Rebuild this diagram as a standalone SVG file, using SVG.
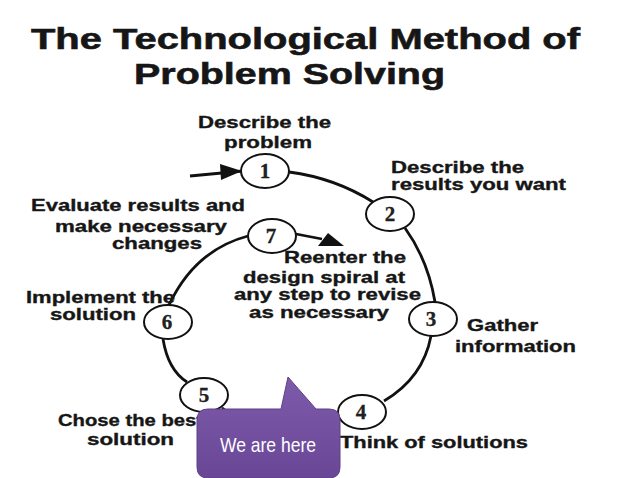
<svg xmlns="http://www.w3.org/2000/svg" width="638" height="478" viewBox="0 0 638 478">
<style>
text{font-family:"Liberation Sans",Arial,sans-serif;font-weight:bold;fill:#161616;stroke:#161616}
.t{font-size:30px;stroke-width:.6}
.l{font-size:16.5px;stroke-width:.35}
.n{font-family:"Liberation Serif","Times New Roman",serif;font-size:21px;text-anchor:middle;fill:#222;stroke-width:.3}
ellipse{fill:#fff;stroke:#111;stroke-width:2}
.c{fill:none;stroke:#111;stroke-width:2.8}
</style>
<defs>
<linearGradient id="p" x1="0" y1="0" x2="0" y2="1"><stop offset="0" stop-color="#7d5bab"/><stop offset="1" stop-color="#6a4796"/></linearGradient>
</defs>
<rect width="638" height="478" fill="#fff"/>
<g id="title">
<text class="t" x="31" y="49" textLength="549" lengthAdjust="spacingAndGlyphs">The Technological Method of</text>
<text class="t" x="134" y="84" textLength="311" lengthAdjust="spacingAndGlyphs">Problem Solving</text>
</g>
<g id="connectors">
<path class="c" d="M190 176L243 171"/>
<polygon points="242,171 220,164 221,180" fill="#111"/>
<path class="c" d="M289 172Q335 178 373 202"/>
<path class="c" d="M405 228Q428 260 435 302"/>
<path class="c" d="M431 336Q423 378 384 401"/>
<path class="c" d="M169 305Q195 250 248 236"/>
<path class="c" d="M296 234L322 239"/>
<polygon points="344,246 318,246 328,233" fill="#111"/>
<path class="c" d="M163 339Q168 370 187 382"/>
<path class="c" d="M222 408Q228 412 232 420"/>
</g>
<g id="label-1"><text class="l" x="198" y="128" textLength="133" lengthAdjust="spacingAndGlyphs">Describe the</text><text class="l" x="224" y="148" textLength="88" lengthAdjust="spacingAndGlyphs">problem</text></g>
<g id="label-2"><text class="l" x="391" y="173" textLength="133" lengthAdjust="spacingAndGlyphs">Describe the</text><text class="l" x="391" y="190" textLength="175" lengthAdjust="spacingAndGlyphs">results you want</text></g>
<g id="label-3"><text class="l" x="467" y="331" textLength="71" lengthAdjust="spacingAndGlyphs">Gather</text><text class="l" x="455" y="352" textLength="121" lengthAdjust="spacingAndGlyphs">information</text></g>
<g id="label-4"><text class="l" x="340" y="448" textLength="188" lengthAdjust="spacingAndGlyphs">Think of solutions</text></g>
<g id="label-5"><text class="l" x="58" y="426" textLength="145" lengthAdjust="spacingAndGlyphs">Chose the best</text><text class="l" x="87" y="445" textLength="87" lengthAdjust="spacingAndGlyphs">solution</text></g>
<g id="label-6"><text class="l" x="26" y="303" textLength="149" lengthAdjust="spacingAndGlyphs">Implement the</text><text class="l" x="50" y="320" textLength="86" lengthAdjust="spacingAndGlyphs">solution</text></g>
<g id="label-7"><text class="l" x="31" y="211" textLength="214" lengthAdjust="spacingAndGlyphs">Evaluate results and</text><text class="l" x="55" y="232" textLength="172" lengthAdjust="spacingAndGlyphs">make necessary</text><text class="l" x="112" y="249" textLength="90" lengthAdjust="spacingAndGlyphs">changes</text></g>
<g id="label-reenter"><text class="l" x="284" y="263" textLength="122" lengthAdjust="spacingAndGlyphs">Reenter the</text><text class="l" x="243" y="283" textLength="162" lengthAdjust="spacingAndGlyphs">design spiral at</text><text class="l" x="234" y="300" textLength="187" lengthAdjust="spacingAndGlyphs">any step to revise</text><text class="l" x="249" y="318" textLength="140" lengthAdjust="spacingAndGlyphs">as necessary</text></g>
<g id="node-1"><ellipse cx="265" cy="171" rx="24" ry="17"/><text class="n" x="265" y="178">1</text></g>
<g id="node-2"><ellipse cx="390" cy="214" rx="24" ry="17"/><text class="n" x="390" y="221">2</text></g>
<g id="node-3"><ellipse cx="433" cy="319" rx="24" ry="17"/><text class="n" x="431" y="326">3</text></g>
<g id="node-4"><ellipse cx="362" cy="412" rx="24" ry="17"/><text class="n" x="361" y="419">4</text></g>
<g id="node-5"><ellipse cx="204" cy="395" rx="24" ry="17"/><text class="n" x="204" y="402">5</text></g>
<g id="node-6"><ellipse cx="168" cy="322" rx="24" ry="17"/><text class="n" x="167" y="329">6</text></g>
<g id="node-7"><ellipse cx="272" cy="236" rx="24" ry="17"/><text class="n" x="271" y="243">7</text></g>
<g id="callout">
<path d="M208 409H281L288 377L316 409H329Q340 409 340 420V467Q340 478 329 478H208Q197 478 197 467V420Q197 409 208 409Z" fill="url(#p)" stroke="#5f4187" stroke-width="1"/>
<text x="220" y="452" style="font-weight:normal;font-size:21px;fill:#fff;stroke:none" textLength="96" lengthAdjust="spacingAndGlyphs">We are here</text>
</g>
</svg>
